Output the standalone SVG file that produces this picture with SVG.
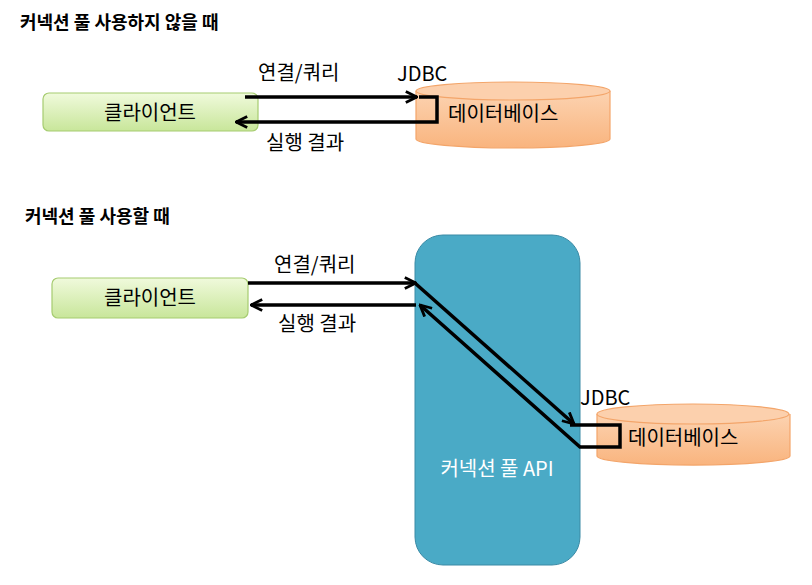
<svg xmlns="http://www.w3.org/2000/svg" width="812" height="585" viewBox="0 0 812 585">
<style>
text{font-family:"Noto Sans CJK KR","Noto Sans",sans-serif;fill:#000}
.t{font-size:18px;font-weight:bold}
.l{font-size:20px}
.cl{fill:url(#g);stroke:#a6cc70;stroke-width:1.2}
.db{fill:url(#o);stroke:#f3a56a;stroke-width:1.2}
.dbt{fill:#fcd0ad;stroke:#f3a56a;stroke-width:1.2}
.c{fill:none;stroke:#000;stroke-width:3.5}
</style>
<defs>
<linearGradient id="g" x1="0" y1="0" x2="0" y2="1"><stop offset="0" stop-color="#f0fadc"/><stop offset="1" stop-color="#c8e69a"/></linearGradient>
<linearGradient id="o" x1="0" y1="0" x2="0" y2="1"><stop offset="0" stop-color="#fcd3b1"/><stop offset="1" stop-color="#f9b47e"/></linearGradient>
<marker id="a" viewBox="0 0 10 10" refX="9" refY="5" markerWidth="4" markerHeight="4" orient="auto-start-reverse"><path d="M1,1 L9,5 L1,9" fill="none" stroke="#000" stroke-width="2"/></marker>
</defs>
<text class="t" x="20" y="29">커넥션 풀 사용하지 않을 때</text>
<text class="t" x="25" y="223">커넥션 풀 사용할 때</text>
<g id="client1"><rect class="cl" x="43" y="93" width="215" height="38" rx="6"/><text class="l" x="150" y="120" text-anchor="middle">클라이언트</text></g>
<g id="db1"><path class="db" d="M416,91 V139 A97,9 0 0 0 610,139 V91"/><ellipse class="dbt" cx="513" cy="91" rx="97" ry="9"/><text class="l" x="448" y="121">데이터베이스</text></g>
<g id="pool"><rect x="415" y="235" width="165" height="330" rx="28" fill="#4aaac6" stroke="#3a8aa5"/><text x="497" y="476" text-anchor="middle" style="font-size:20px;fill:#fff">커넥션 풀 API</text></g>
<g id="client2"><rect class="cl" x="52" y="278" width="196" height="40" rx="6"/><text class="l" x="150" y="305" text-anchor="middle">클라이언트</text></g>
<g id="db2"><path class="db" d="M597,414 V456 A96,9 0 0 0 790,456 V414"/><ellipse class="dbt" cx="693" cy="414" rx="96" ry="10"/><text class="l" x="628" y="445">데이터베이스</text></g>
<g id="connectors">
<path class="c" d="M245,97 H417" marker-end="url(#a)"/>
<path class="c" d="M419,97 H437 V122 H236" marker-end="url(#a)"/>
<path class="c" d="M248,283 H416" marker-end="url(#a)"/>
<path class="c" d="M416,284 L574,424" marker-end="url(#a)"/>
<path class="c" d="M570,425 H620 V447 H580 L420,305" marker-end="url(#a)"/>
<path class="c" d="M416,305 H251" marker-end="url(#a)"/>
</g>
<text class="l" x="258" y="80">연결/쿼리</text>
<text class="l" x="397" y="81">JDBC</text>
<text class="l" x="266" y="150">실행 결과</text>
<text class="l" x="274" y="272">연결/쿼리</text>
<text class="l" x="278" y="331">실행 결과</text>
<text class="l" x="580" y="405">JDBC</text>
</svg>
